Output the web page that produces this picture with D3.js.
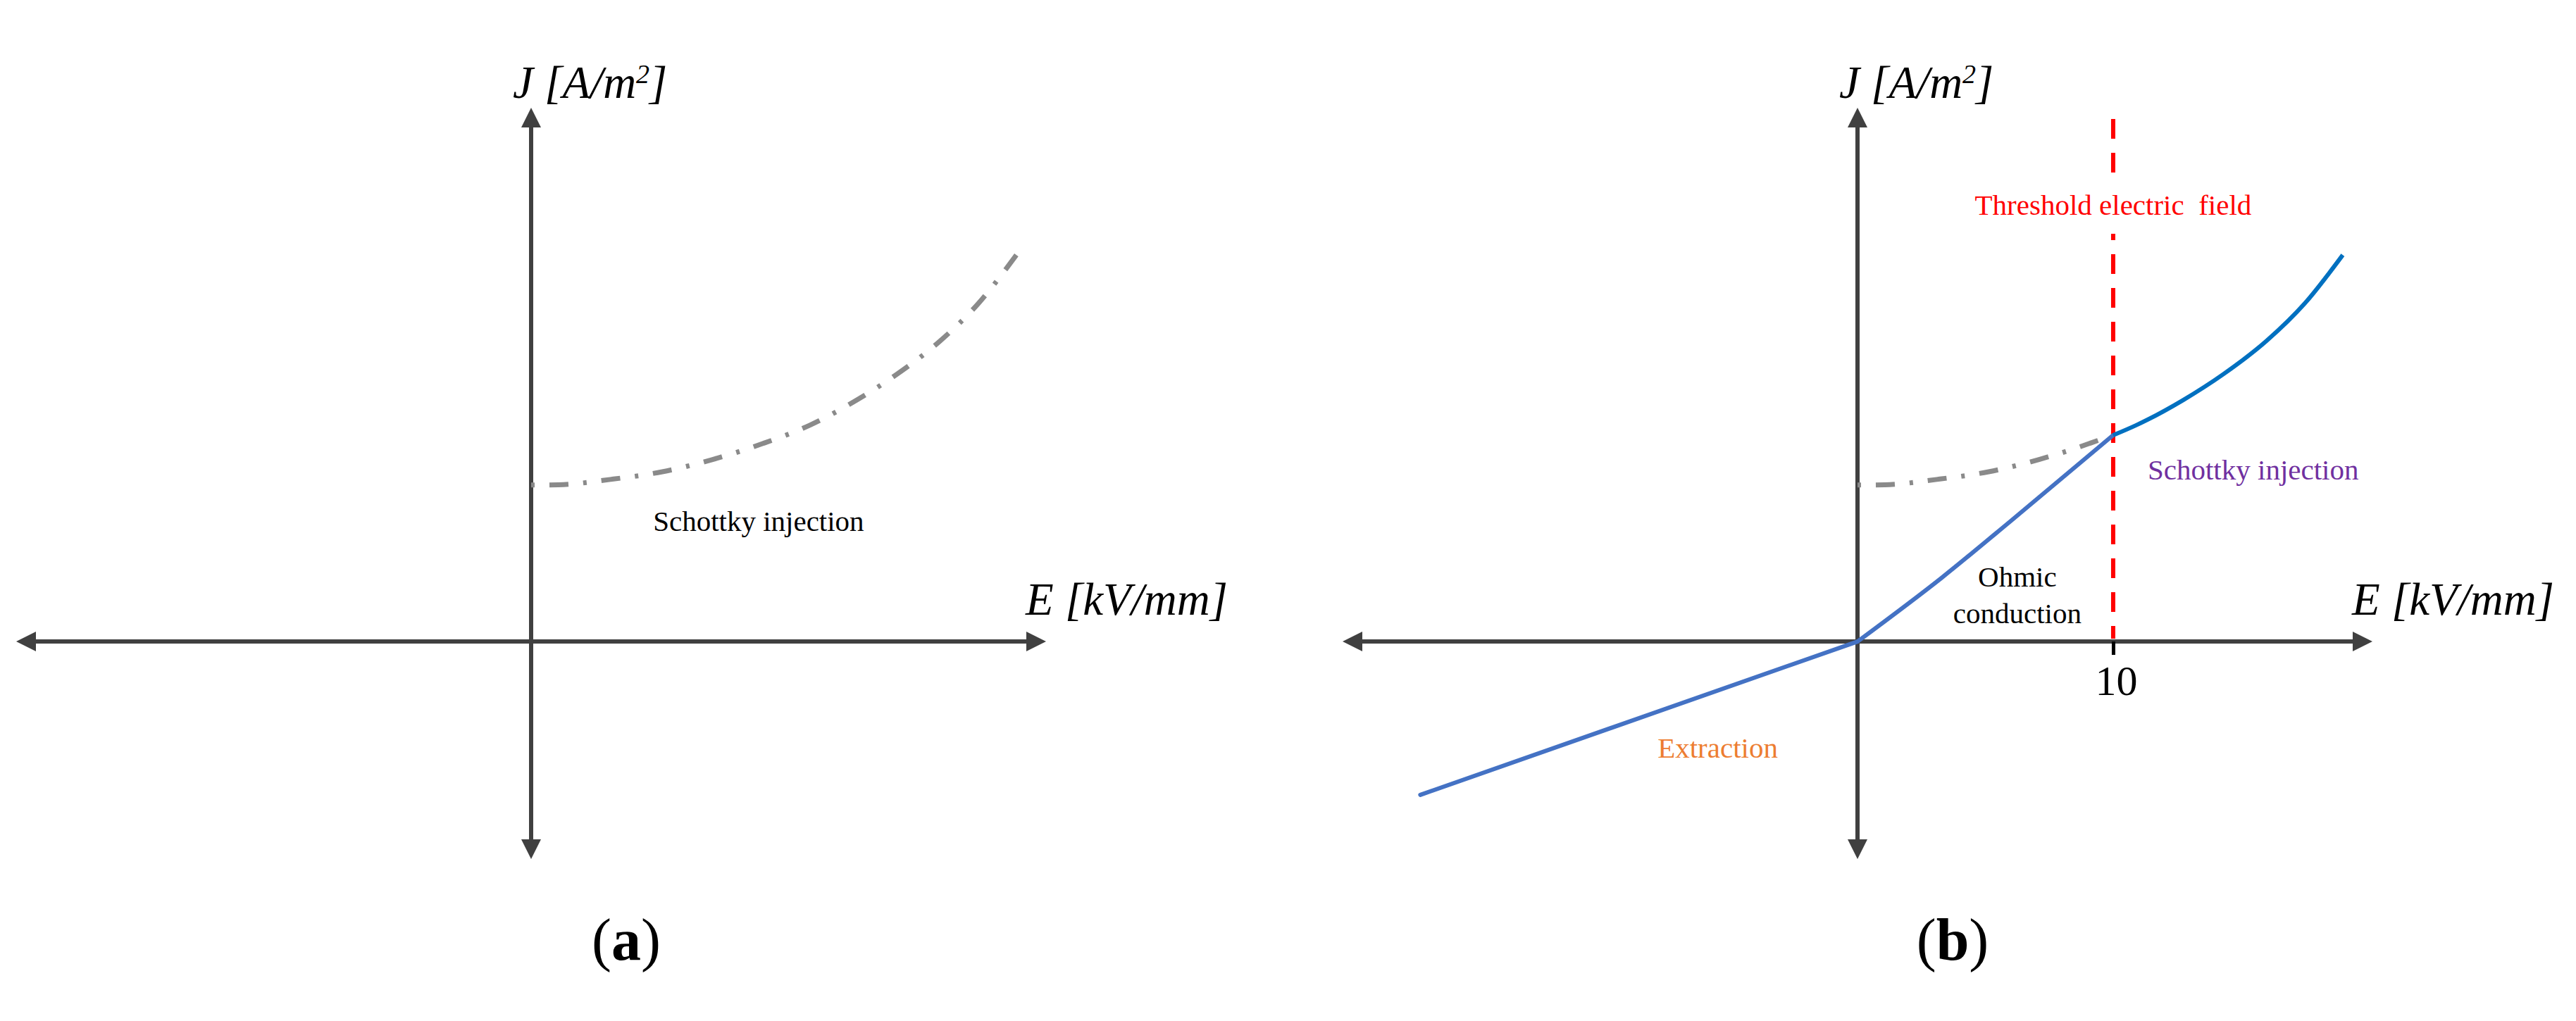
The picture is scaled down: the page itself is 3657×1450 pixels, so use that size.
<!DOCTYPE html>
<html>
<head>
<meta charset="utf-8">
<script src="https://cdn.jsdelivr.net/npm/d3@7"></script>
<style>
  body { margin: 0; background: #fff; }
  text { font-family: "Liberation Serif", "Times New Roman", serif; }
</style>
</head>
<body>
<div id="chart"></div>
<script>
// =========================
// Data (E in kV/mm, J in arbitrary units)
// =========================

// Extent of the drawn axes (arrow tips)
const eExtent = [-20.14, 20.14];
const jExtent = [-8.51, 20.88];

// Schottky injection curve: dash-dot in (a), upper branch in (b)
const schottkyE = [0, 1.07, 3.1, 5.13, 7.1, 9.05, 10.9, 12.73, 14.3, 16.0, 17.49, 18.98];
const schottkyJ = [6.12, 6.13, 6.34, 6.64, 7.12, 7.74, 8.46, 9.44, 10.45, 11.76, 13.22, 15.12];

// Ohmic conduction up to the threshold field
const ohmicE = [0, 3.3, 6, 10];
const ohmicJ = [0, 2.5, 4.72, 8.07];

// Extraction branch (negative field)
const extractionE = [-17.1, 0];
const extractionJ = [-6.0, 0];

// Threshold electric field
const thresholdE = 10;
const thresholdTopJ = 20.44;
const xTickValues = [10];

const panelNames = ["a", "b"];

// =========================
// Layout
// =========================
const width = 3657;
const height = 1450;
const panelShift = 1883;
const axisColor = "#404040";

const svg = d3.select("#chart")
  .append("svg")
  .attr("width", width)
  .attr("height", height)
  .style("background", "#fff");

const x = d3.scaleLinear().domain(eExtent).range([23, 1485]);
const y = d3.scaleLinear().domain(jExtent).range([1220, 153]);

const zip = (a, b) => a.map((v, i) => [v, b[i]]);
const schottky = zip(schottkyE, schottkyJ);
const ohmic = zip(ohmicE, ohmicJ);
const extraction = zip(extractionE, extractionJ);

const line = d3.line()
  .x(d => x(d[0]))
  .y(d => y(d[1]))
  .curve(d3.curveMonotoneX);

// Draw the two arrowed axes and their labels
function drawAxes(g) {
  const x0 = x(0), y0 = y(0);
  const left = x(eExtent[0]), right = x(eExtent[1]);
  const top = y(jExtent[1]), bottom = y(jExtent[0]);
  const len = 28, half = 14;

  g.append("line")
    .attr("x1", left + 20).attr("x2", right - 20)
    .attr("y1", y0).attr("y2", y0)
    .attr("stroke", axisColor).attr("stroke-width", 6);
  g.append("line")
    .attr("x1", x0).attr("x2", x0)
    .attr("y1", top + 20).attr("y2", bottom - 20)
    .attr("stroke", axisColor).attr("stroke-width", 6);

  const heads = [
    [[right, y0], [right - len, y0 - half], [right - len, y0 + half]],
    [[left, y0], [left + len, y0 - half], [left + len, y0 + half]],
    [[x0, top], [x0 - half, top + len], [x0 + half, top + len]],
    [[x0, bottom], [x0 - half, bottom - len], [x0 + half, bottom - len]]
  ];
  g.selectAll("polygon.head")
    .data(heads)
    .enter()
    .append("polygon")
    .attr("class", "head")
    .attr("points", d => d.map(p => p.join(",")).join(" "))
    .attr("fill", axisColor);

  // J [A/m2]
  const jl = g.append("text")
    .attr("x", x0 - 26)
    .attr("y", 139)
    .style("font-size", "65px")
    .style("font-style", "italic")
    .attr("fill", "#000");
  jl.append("tspan").text("J [A/m");
  jl.append("tspan").attr("dy", -21).style("font-size", "38px").text("2");
  jl.append("tspan").attr("dy", 21).text("]");

  // E [kV/mm]
  g.append("text")
    .attr("x", right - 29)
    .attr("y", y0 - 38)
    .style("font-size", "65px")
    .style("font-style", "italic")
    .attr("fill", "#000")
    .text("E [kV/mm]");
}

function drawCaption(g, name) {
  const t = g.append("text")
    .attr("x", x(0) + 135)
    .attr("y", 1363)
    .attr("text-anchor", "middle")
    .style("font-size", "84px")
    .attr("fill", "#000");
  t.append("tspan").text("(");
  t.append("tspan").style("font-weight", "bold").text(name);
  t.append("tspan").text(")");
}

function addLabel(g, text, e, j, color, anchor) {
  return g.append("text")
    .attr("x", x(e))
    .attr("y", y(j))
    .attr("text-anchor", anchor || "start")
    .style("font-size", "41px")
    .style("white-space", "pre")
    .attr("fill", color)
    .text(text);
}

// =========================
// Panel (a)
// =========================
const ga = svg.append("g");
drawAxes(ga);

ga.append("path")
  .datum(schottky)
  .attr("d", line)
  .attr("fill", "none")
  .attr("stroke", "#8a8a8a")
  .attr("stroke-width", 7)
  .attr("stroke-dasharray", "27,21,5,21")
  .attr("stroke-dashoffset", 48);

addLabel(ga, "Schottky injection", 4.77, 4.33, "#000");
drawCaption(ga, panelNames[0]);

// =========================
// Panel (b)
// =========================
const gb = svg.append("g").attr("transform", `translate(${panelShift},0)`);
drawAxes(gb);

// tick at the threshold field
const xAxis = gb.append("g")
  .attr("transform", `translate(0,${y(0)})`)
  .call(d3.axisBottom(x).tickValues(xTickValues).tickSize(19).tickPadding(14));
xAxis.select(".domain").remove();
xAxis.selectAll("line").attr("stroke", "#000").attr("stroke-width", 5);
xAxis.selectAll("text")
  .attr("x", 4)
  .style("font-family", "'Liberation Serif', 'Times New Roman', serif")
  .style("font-size", "60px")
  .attr("fill", "#000");

// grey Schottky curve below the threshold
gb.append("clipPath").attr("id", "belowThreshold")
  .append("rect")
  .attr("x", x(0)).attr("y", 0)
  .attr("width", x(thresholdE) - x(0) - 6).attr("height", height);

gb.append("path")
  .datum(schottky)
  .attr("d", line)
  .attr("clip-path", "url(#belowThreshold)")
  .attr("fill", "none")
  .attr("stroke", "#8a8a8a")
  .attr("stroke-width", 7)
  .attr("stroke-dasharray", "27,21,5,21")
  .attr("stroke-dashoffset", 48);

// threshold line (dashed red) with its label
gb.append("line")
  .attr("x1", x(thresholdE)).attr("x2", x(thresholdE))
  .attr("y1", y(thresholdTopJ)).attr("y2", y(0) - 4)
  .attr("stroke", "#ff0000")
  .attr("stroke-width", 6)
  .attr("stroke-dasharray", "28,20");

gb.append("rect")
  .attr("x", x(thresholdE) - 200).attr("y", 252)
  .attr("width", 400).attr("height", 80)
  .attr("fill", "#fff");
addLabel(gb, "Threshold electric\u00a0 field", thresholdE, 16.69, "#ff0000", "middle");

// blue J-E characteristic
gb.append("path")
  .datum(extraction)
  .attr("d", d3.line().x(d => x(d[0])).y(d => y(d[1])))
  .attr("fill", "none")
  .attr("stroke", "#4472c4")
  .attr("stroke-width", 6)
  .attr("stroke-linecap", "round");

gb.append("path")
  .datum(ohmic)
  .attr("d", line)
  .attr("fill", "none")
  .attr("stroke", "#4472c4")
  .attr("stroke-width", 6)
  .attr("stroke-linecap", "round");

const upper = [ohmic[ohmic.length - 1]].concat(schottky.filter(d => d[0] > thresholdE));
gb.append("path")
  .datum(upper)
  .attr("d", line)
  .attr("fill", "none")
  .attr("stroke", "#0070c0")
  .attr("stroke-width", 6);

addLabel(gb, "Schottky injection", 11.35, 6.34, "#7030a0");
addLabel(gb, "Ohmic", 6.25, 2.15, "#000", "middle");
addLabel(gb, "conduction", 6.25, 0.72, "#000", "middle");
addLabel(gb, "Extraction", -7.82, -4.55, "#ed7d31");

drawCaption(gb, panelNames[1]);
</script>
</body>
</html>
